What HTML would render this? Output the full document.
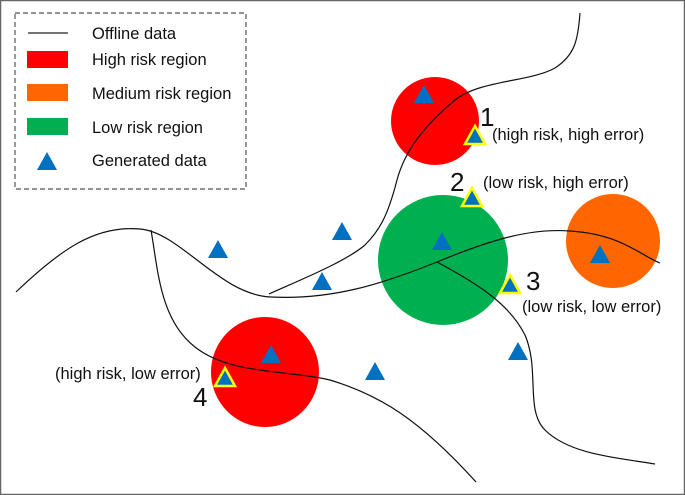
<!DOCTYPE html>
<html><head><meta charset="utf-8"><style>
html,body{margin:0;padding:0;background:#fff}
svg{display:block}
text{font-family:"Liberation Sans",Arial,sans-serif;fill:#111}
</style></head><body>
<svg width="685" height="495" viewBox="0 0 685 495" xmlns="http://www.w3.org/2000/svg">
<rect x="0.5" y="0.5" width="684" height="494" fill="#fff" stroke="#666" stroke-width="1.5"/>
<!-- legend -->
<rect x="15" y="13" width="231" height="176" fill="none" stroke="#555" stroke-width="1.2" stroke-dasharray="5,3"/>
<line x1="28" y1="33" x2="68" y2="33" stroke="#222" stroke-width="1.3"/>
<rect x="27" y="51" width="41" height="17" fill="#ff0000"/>
<rect x="27" y="84" width="41" height="17" fill="#ff6600"/>
<rect x="27" y="118" width="41" height="17" fill="#00b050"/>
<polygon points="47,152 37,170 57,170" fill="#0070c0"/>
<g font-size="16.5">
<text x="92" y="39">Offline data</text>
<text x="92" y="65">High risk region</text>
<text x="92" y="99">Medium risk region</text>
<text x="92" y="133">Low risk region</text>
<text x="92" y="166">Generated data</text>
</g>
<!-- circles -->
<ellipse cx="435" cy="121" rx="44" ry="44" fill="#ff0000"/>
<ellipse cx="443" cy="260" rx="65" ry="65" fill="#00b050"/>
<ellipse cx="613" cy="241" rx="47" ry="47" fill="#ff6600"/>
<ellipse cx="265" cy="372" rx="54" ry="55" fill="#ff0000"/>
<!-- curves -->
<g fill="none" stroke="#111" stroke-width="1.2">
<path d="M580,13 C578,40 575,55 555,68 C530,82 480,80 455,100 C425,125 405,150 397,180 C388,215 380,230 365,245 C345,262 300,280 269,294"/>
<path d="M16,292 C60,250 95,225 140,229 C180,232 220,295 271,297 C330,300 380,285 437,262 C490,240 530,228 570,231 C620,234 640,255 660,263"/>
<path d="M151,230 C158,270 160,320 195,347 C230,375 290,370 330,380 C380,395 420,420 476,482"/>
<path d="M437,262 C480,285 510,305 525,335 C540,370 525,410 545,430 C570,455 620,458 655,464"/>
</g>
<!-- triangles -->
<g fill="#0070c0">
<polygon points="424,85 414,103 434,103"/>
<polygon points="442,232 432,250 452,250"/>
<polygon points="342,222 332,240 352,240"/>
<polygon points="218,240 208,258 228,258"/>
<polygon points="322,272 312,290 332,290"/>
<polygon points="600,245 590,263 610,263"/>
<polygon points="518,342 508,360 528,360"/>
<polygon points="375,362 365,380 385,380"/>
<polygon points="271,345 261,363 281,363"/>
</g>
<g fill="#0070c0" stroke="#ffff00" stroke-width="2.5" stroke-linejoin="miter">
<polygon points="475,126 465,144 485,144"/>
<polygon points="472,188 462,206 482,206"/>
<polygon points="510,275 500,293 520,293"/>
<polygon points="225,368 215,386 235,386"/>
</g>
<!-- labels -->
<g font-size="16.5">
<text x="492" y="140">(high risk, high error)</text>
<text x="483" y="188">(low risk, high error)</text>
<text x="522" y="312">(low risk, low error)</text>
<text x="55" y="379">(high risk, low error)</text>
</g>
<g font-size="26">
<text x="480" y="126">1</text>
<text x="450" y="191">2</text>
<text x="526" y="290">3</text>
<text x="193" y="406">4</text>
</g>
</svg>
</body></html>
